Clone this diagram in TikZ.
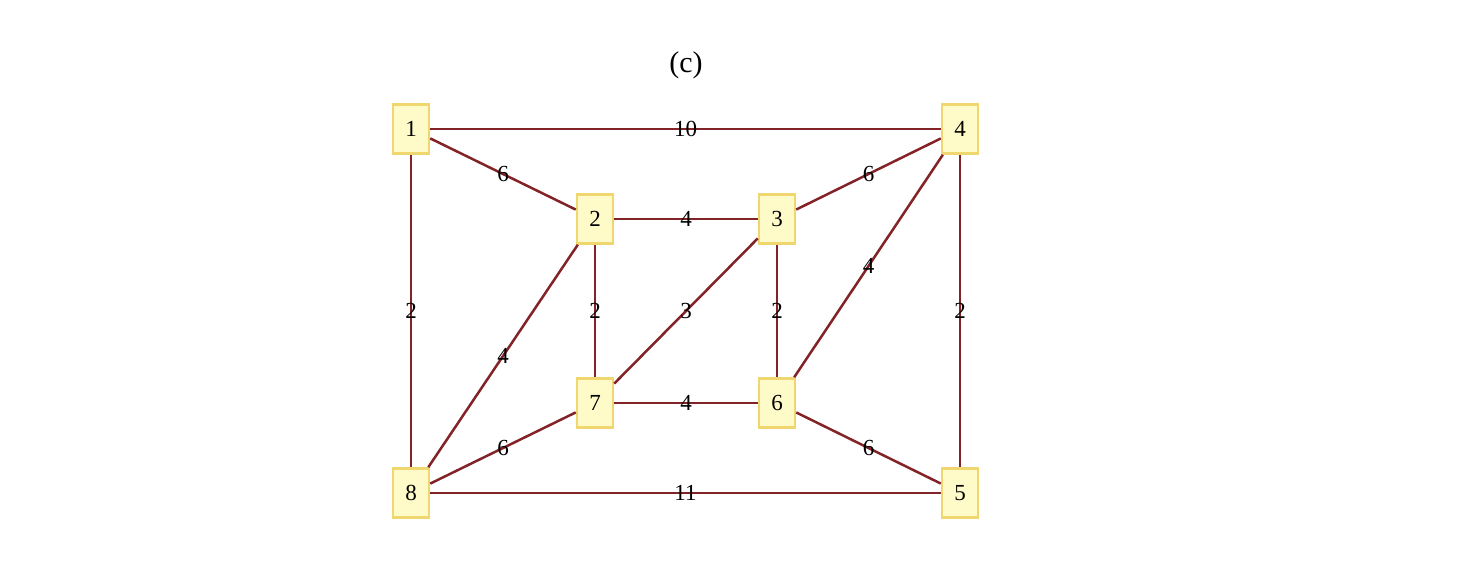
\documentclass[tikz,border=0pt]{standalone}
\usepackage{fontspec}
\setmainfont{Liberation Serif}
\begin{document}
\begin{tikzpicture}[x=1pt,y=-1pt,
  vbox/.style={draw={rgb,255:red,240;green,214;blue,110},line width=2.5pt,fill={rgb,255:red,255;green,251;blue,200},minimum width=36pt,minimum height=49pt,inner sep=0pt,font=\fontsize{23}{23}\selectfont},
  edge/.style={draw={rgb,255:red,130;green,35;blue,40},line width=2.5pt},
  wt/.style={font=\fontsize{23}{23}\selectfont,inner sep=0pt}]
\useasboundingbox (0,0) rectangle (1470,560);
\node[font=\fontsize{30}{30}\selectfont] (t) at (686,65) {(c)};
\node[vbox] (n1) at (411,129) {1};
\node[vbox] (n4) at (960,129) {4};
\node[vbox] (n2) at (595,219) {2};
\node[vbox] (n3) at (777,219) {3};
\node[vbox] (n7) at (595,403) {7};
\node[vbox] (n6) at (777,403) {6};
\node[vbox] (n8) at (411,493) {8};
\node[vbox] (n5) at (960,493) {5};
\path[edge] (n1) -- node[wt]{10} (n4);
\path[edge] (n1) -- node[wt]{6} (n2);
\path[edge] (n1) -- node[wt]{2} (n8);
\path[edge] (n2) -- node[wt]{4} (n3);
\path[edge] (n2) -- node[wt]{2} (n7);
\path[edge] (n2) -- node[wt]{4} (n8);
\path[edge] (n3) -- node[wt]{6} (n4);
\path[edge] (n3) -- node[wt]{2} (n6);
\path[edge] (n3) -- node[wt]{3} (n7);
\path[edge] (n4) -- node[wt]{4} (n6);
\path[edge] (n4) -- node[wt]{2} (n5);
\path[edge] (n7) -- node[wt]{4} (n6);
\path[edge] (n7) -- node[wt]{6} (n8);
\path[edge] (n6) -- node[wt]{6} (n5);
\path[edge] (n8) -- node[wt]{11} (n5);
\end{tikzpicture}
\end{document}
